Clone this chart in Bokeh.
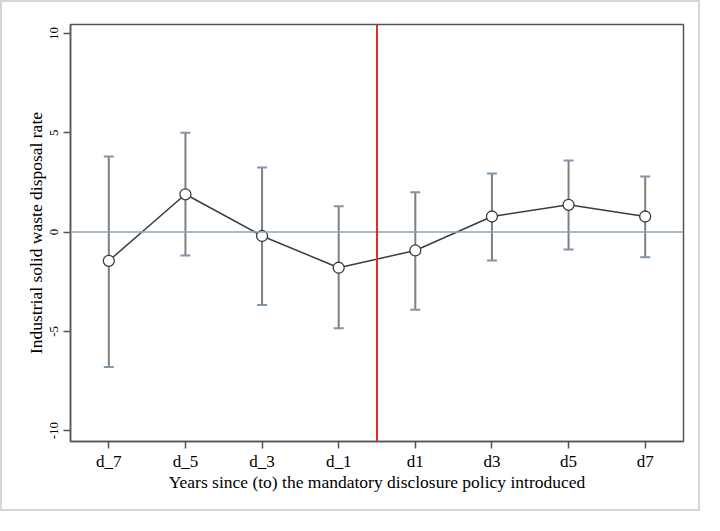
from bokeh.plotting import figure
from bokeh.models import Span, FixedTicker, Range1d
from bokeh.embed import file_html
from bokeh.resources import INLINE

categories = ["d_7", "d_5", "d_3", "d_1", "d1", "d3", "d5", "d7"]
estimates = [-1.45, 1.9, -0.2, -1.8, -0.93, 0.78, 1.37, 0.78]
ci_upper = [3.8, 5.0, 3.25, 1.3, 2.0, 2.95, 3.6, 2.8]
ci_lower = [-6.8, -1.18, -3.68, -4.85, -3.92, -1.43, -0.88, -1.27]
y_ticks = [-10, -5, 0, 5, 10]
policy_after = "d1"

xs = list(range(1, len(categories) + 1))
policy_x = categories.index(policy_after) + 0.5

SERIF = "Liberation Serif"

p = figure(width=700, height=511, output_backend="svg", toolbar_location=None,
           x_range=Range1d(0.5, 8.5), y_range=Range1d(-10.55, 10.45),
           min_border_left=68, min_border_top=22, min_border_right=19, min_border_bottom=72)
p.styles = {"border": "2px solid #d6d6d6"}
p.background_fill_color = "white"
p.border_fill_color = "white"
p.outline_line_color = "#555555"
p.outline_line_width = 1.5
p.xgrid.visible = False
p.ygrid.visible = False

# axes
p.xaxis.ticker = FixedTicker(ticks=xs)
p.xaxis.major_label_overrides = {x: c for x, c in zip(xs, categories)}
p.yaxis.ticker = FixedTicker(ticks=y_ticks)
p.yaxis.major_label_overrides = {t: str(t) for t in y_ticks}
for ax in (p.xaxis[0], p.yaxis[0]):
    ax.axis_line_color = "#555555"
    ax.axis_line_width = 1.5
    ax.major_tick_line_color = "#555555"
    ax.major_tick_line_width = 1.5
    ax.major_tick_out = 7
    ax.major_tick_in = 0
    ax.minor_tick_line_color = None
    ax.major_label_text_font = SERIF
    ax.axis_label_text_font = SERIF
    ax.axis_label_text_font_style = "normal"
    ax.axis_label_text_color = "black"
    ax.major_label_text_color = "black"

p.xaxis.major_label_text_font_size = "17px"
p.xaxis.major_label_standoff = 3
p.xaxis.axis_label = "Years since (to) the mandatory disclosure policy introduced"
p.xaxis.axis_label_text_font_size = "17.5px"
p.xaxis.axis_label_standoff = -2

p.yaxis.major_label_text_font_size = "13px"
p.yaxis.major_label_orientation = "vertical"
p.yaxis.major_label_standoff = 5
p.yaxis.axis_label = "Industrial solid waste disposal rate"
p.yaxis.axis_label_text_font_size = "17.5px"
p.yaxis.axis_label_standoff = 2

# reference lines
p.add_layout(Span(location=0, dimension="width", line_color="#8fa3b5", line_width=1.5))
p.add_layout(Span(location=policy_x, dimension="height", line_color="#e8292c", line_width=2))

# confidence intervals
p.segment(x0=xs, y0=ci_lower, x1=xs, y1=ci_upper, line_color="#7f7f7f", line_width=2)
p.scatter(x=xs + xs, y=ci_lower + ci_upper, marker="dash", size=10,
          line_color="#7f97ad", line_width=2)

# estimates
p.line(x=xs, y=estimates, line_color="#3c3c3c", line_width=1.5)
p.scatter(x=xs, y=estimates, marker="circle", size=11, fill_color="white",
          line_color="#3c3c3c", line_width=1.3)

open("out.html", "w").write(file_html(p, INLINE))
